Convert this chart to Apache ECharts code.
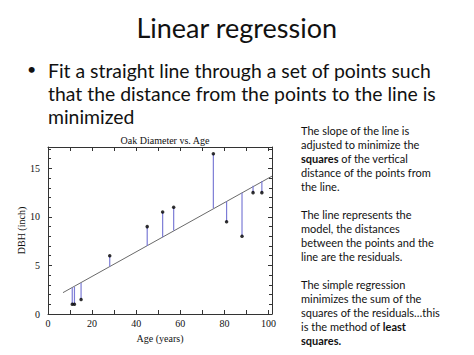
<!DOCTYPE html>
<html>
<head>
<meta charset="utf-8">
<script src="https://cdn.jsdelivr.net/npm/echarts@6/dist/echarts.min.js"></script>
<style>
html,body{margin:0;padding:0;background:#fff;}
#chart{width:474px;height:355px;}
</style>
</head>
<body>
<div id="chart"></div>
<script>
// Data
const ages = [11, 12, 15, 28, 45, 52, 57, 75, 81, 88, 93, 97];
const dbh = [1, 1, 1.5, 6, 9, 10.5, 11, 16.5, 9.5, 8, 12.5, 12.5];
const fitted = [2.7, 2.8, 3.2, 4.9, 7.0, 7.9, 8.6, 10.9, 11.6, 12.5, 13.2, 13.7];
const lineAges = [6.8, 101.6];
const lineDbh = [2.2, 14.2];
const xTicks = [0, 20, 40, 60, 80, 100];
const yTicks = [0, 5, 10, 15];

const slideTitle = 'Linear regression';
const bulletLines = [
  'Fit a straight line through a set of points such',
  'that the distance from the points to the line is',
  'minimized'
];
const noteLines = [
  'The slope of the line is',
  'adjusted to minimize the',
  '{b|squares} of the vertical',
  'distance of the points from',
  'the line.',
  '',
  'The line represents the',
  'model, the distances',
  'between the points and the',
  'line are the residuals.',
  '',
  'The simple regression',
  'minimizes the sum of the',
  'squares of the residuals\u2026this',
  'is the method of {b|least}',
  '{b|squares.}'
];

const chart = echarts.init(document.getElementById('chart'), null, {renderer: 'svg'});
const serif = 'Liberation Serif';
const sans = 'Lato';

const graphics = [
  {type: 'text', left: 'center', top: 14, style: {text: slideTitle, font: '27px ' + sans, fill: '#111'}},
  {type: 'text', left: 27, top: 60, style: {text: '\u2022', font: '16px ' + sans, fill: '#111'}}
];
bulletLines.forEach((t, i) => {
  graphics.push({type: 'text', left: 48, top: 61 + i * 23, style: {text: t, font: '19.4px ' + sans, fill: '#111'}});
});
graphics.push({
  type: 'text', left: 301, top: 123,
  style: {
    text: noteLines.join('\n'), font: '11px ' + sans, fill: '#111', lineHeight: 14,
    rich: {b: {fontWeight: 'bold', fontFamily: sans, fontSize: 11, lineHeight: 14}}
  }
});

const axisCommon = {
  type: 'value',
  axisLine: {show: true, onZero: false, lineStyle: {color: '#333', width: 1}},
  axisTick: {show: true, inside: true, length: 4, lineStyle: {color: '#333'}},
  splitLine: {show: false}
};

chart.setOption({
  animation: false,
  backgroundColor: '#fff',
  title: {
    text: 'Oak Diameter vs. Age', left: 160, top: 130, textAlign: 'center',
    textStyle: {fontFamily: serif, fontSize: 10, fontWeight: 'normal', color: '#111'}
  },
  graphic: graphics,
  grid: {left: 48, top: 147, right: 202, bottom: 41},
  xAxis: [
    Object.assign({}, axisCommon, {
      min: 0, max: 101.6, interval: 20, position: 'bottom',
      minorTick: {show: true, splitNumber: 2, length: 4, lineStyle: {color: '#333'}},
      axisLabel: {
        fontFamily: serif, fontSize: 10, color: '#111', margin: 4, showMaxLabel: false,
        formatter: v => (xTicks.indexOf(v) >= 0 ? String(v) : '')
      },
      name: 'Age (years)', nameLocation: 'middle', nameGap: 19,
      nameTextStyle: {fontFamily: serif, fontSize: 10, color: '#111'}
    }),
    Object.assign({}, axisCommon, {
      min: 0, max: 101.6, interval: 20, position: 'top',
      minorTick: {show: true, splitNumber: 2, length: 4, lineStyle: {color: '#333'}},
      axisLabel: {show: false}
    })
  ],
  yAxis: [
    Object.assign({}, axisCommon, {
      min: 0, max: 17.2, interval: 5, position: 'left',
      minorTick: {show: true, splitNumber: 5, length: 3, lineStyle: {color: '#333'}},
      axisLabel: {
        fontFamily: serif, fontSize: 10, color: '#111', margin: 8, showMaxLabel: false,
        formatter: v => (yTicks.indexOf(v) >= 0 ? String(v) : '')
      },
      name: 'DBH (inch)', nameLocation: 'middle', nameGap: 22,
      nameTextStyle: {fontFamily: serif, fontSize: 10, color: '#111'}
    }),
    Object.assign({}, axisCommon, {
      min: 0, max: 17.2, interval: 5, position: 'right',
      minorTick: {show: true, splitNumber: 5, length: 3, lineStyle: {color: '#333'}},
      axisLabel: {show: false}
    })
  ],
  series: [
    {
      type: 'line', xAxisIndex: 0, yAxisIndex: 0,
      data: lineAges.map((a, i) => [a, lineDbh[i]]),
      showSymbol: false, symbol: 'none',
      lineStyle: {color: '#6a6a6a', width: 1}, z: 2
    },
    {
      type: 'custom', xAxisIndex: 0, yAxisIndex: 0,
      data: ages.map((a, i) => [a, dbh[i], fitted[i]]),
      renderItem: function (params, api) {
        const p1 = api.coord([api.value(0), api.value(1)]);
        const p2 = api.coord([api.value(0), api.value(2)]);
        return {type: 'line', shape: {x1: p1[0], y1: p1[1], x2: p2[0], y2: p2[1]},
          style: {stroke: '#7c7cd6', lineWidth: 1.2}};
      },
      z: 3
    },
    {
      type: 'scatter', xAxisIndex: 0, yAxisIndex: 0,
      data: ages.map((a, i) => [a, dbh[i]]),
      symbol: 'circle', symbolSize: 3.5,
      itemStyle: {color: '#000'}, z: 4
    }
  ]
});
</script>
</body>
</html>
